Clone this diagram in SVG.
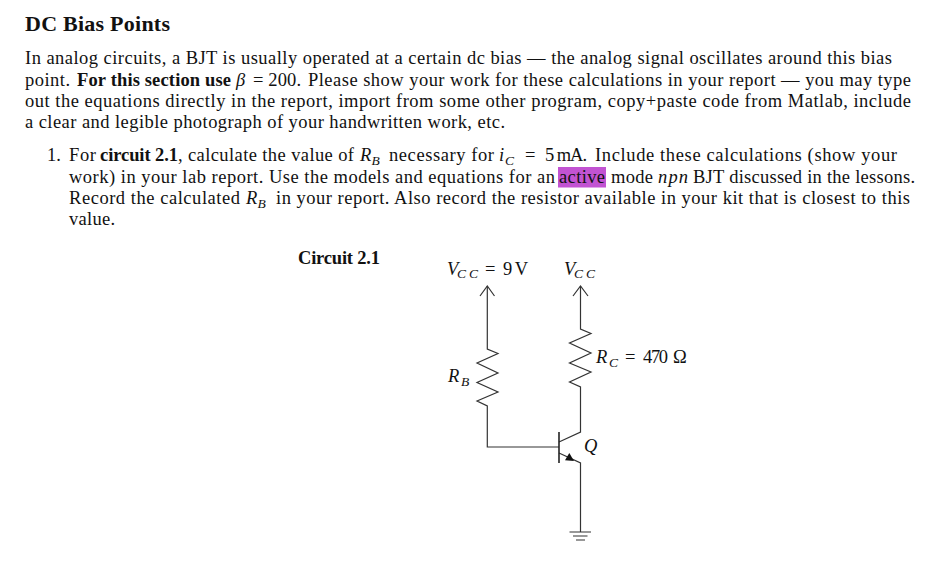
<svg xmlns="http://www.w3.org/2000/svg" width="938" height="566" viewBox="0 0 938 566">
<style>
text{font-family:"Liberation Serif","Times New Roman",serif;font-size:18.5px;fill:#111}
.b{font-weight:bold}
.i{font-style:italic}
.s{font-size:13.500px}
.t{font-size:22px;font-weight:bold}
.w{fill:none;stroke:#333;stroke-width:1.2;stroke-linejoin:miter}
.k{fill:none;stroke:#222;stroke-width:1.6}
</style>
<rect width="938" height="566" fill="#fff"/>
<rect x="558" y="167" width="48" height="20.500" fill="#c253d2"/>
<g id="prose">
<text class="t" x="25" y="31" textLength="145">DC Bias Points</text>
<text x="25" y="64" textLength="867">In analog circuits, a BJT is usually operated at a certain dc bias — the analog signal oscillates around this bias</text>
<text x="25" y="85.500" textLength="45">point.</text>
<text class="b" x="77" y="85.500" textLength="154">For this section use</text>
<text class="i" x="236" y="85.500" textLength="11">β</text>
<text x="253" y="85.500" textLength="48">= 200.</text>
<text x="308" y="85.500" textLength="603">Please show your work for these calculations in your report — you may type</text>
<text x="25" y="106.500" textLength="886">out the equations directly in the report, import from some other program, copy+paste code from Matlab, include</text>
<text x="25" y="128" textLength="480">a clear and legible photograph of your handwritten work, etc.</text>
<text x="47" y="161">1.</text>
<text x="69" y="161" textLength="27">For</text>
<text class="b" x="100" y="161" textLength="78">circuit 2.1</text>
<text x="178" y="161">,</text>
<text x="188" y="161" textLength="166">calculate the value of</text>
<text class="i" x="360" y="161">R</text><text class="i s" x="371.500" y="164.500">B</text>
<text x="389" y="161" textLength="105">necessary for</text>
<text class="i" x="499" y="161">i</text><text class="i s" x="505" y="164.500">C</text>
<text x="525" y="161" textLength="12">=</text>
<text x="545" y="161" textLength="42">5 mA.</text>
<text x="595" y="161" textLength="302">Include these calculations (show your</text>
<text x="69" y="183" textLength="486">work) in your lab report. Use the models and equations for an</text>
<text x="559" y="183" textLength="46">active</text>
<text x="611" y="183" textLength="42">mode</text>
<text class="i" x="658" y="183" textLength="30">npn</text>
<text x="693" y="183" textLength="222">BJT discussed in the lessons.</text>
<text x="69" y="204" textLength="171">Record the calculated</text>
<text class="i" x="246" y="204">R</text><text class="i s" x="257.500" y="207.500">B</text>
<text x="276" y="204" textLength="634">in your report. Also record the resistor available in your kit that is closest to this</text>
<text x="69" y="225" textLength="46">value.</text>
<text class="b" x="298" y="264" textLength="82">Circuit 2.1</text>
</g>
<g id="connectors">
<path class="w" d="M487.300 286V349L498 353.500 477 363 498 373 477 382.500 498 392 477 401 487.300 406V447H559"/>
<path class="w" d="M580.500 286V329L591 333.500 569.500 343 591 353 569.500 363 591 372 569.500 382 580.500 387V432L559 442"/>
<path class="w" d="M559 453L580.500 463V532"/>
</g>
<g id="vcc-left">
<path class="w" d="M480 296L487.300 286 494.500 296"/>
<text class="i" x="447" y="275">V</text><text class="i s" x="457" y="278" textLength="21">CC</text>
<text x="485" y="275" textLength="11">=</text>
<text x="503" y="275" textLength="25">9 V</text>
</g>
<g id="vcc-right">
<path class="w" d="M573 296L580.500 286 588 296"/>
<text class="i" x="564" y="275">V</text><text class="i s" x="574" y="278" textLength="21">CC</text>
</g>
<g id="rb">
<text class="i" x="448" y="382">R</text><text class="i s" x="461" y="385.500">B</text>
</g>
<g id="rc">
<text class="i" x="596" y="363">R</text><text class="i s" x="609" y="366.500">C</text>
<text x="625" y="363" textLength="13">=</text>
<text x="643" y="363" textLength="25">470</text>
<text x="673" y="363" textLength="14">Ω</text>
</g>
<g id="q">
<path class="k" d="M559 432V463"/>
<polygon points="569.300,453 565,460.300 574,461" fill="#111"/>
<text class="i" x="584" y="452">Q</text>
</g>
<g id="ground">
<path class="w" d="M569.500 532H591M573 536H587.500M576 540H585"/>
</g>
</svg>
